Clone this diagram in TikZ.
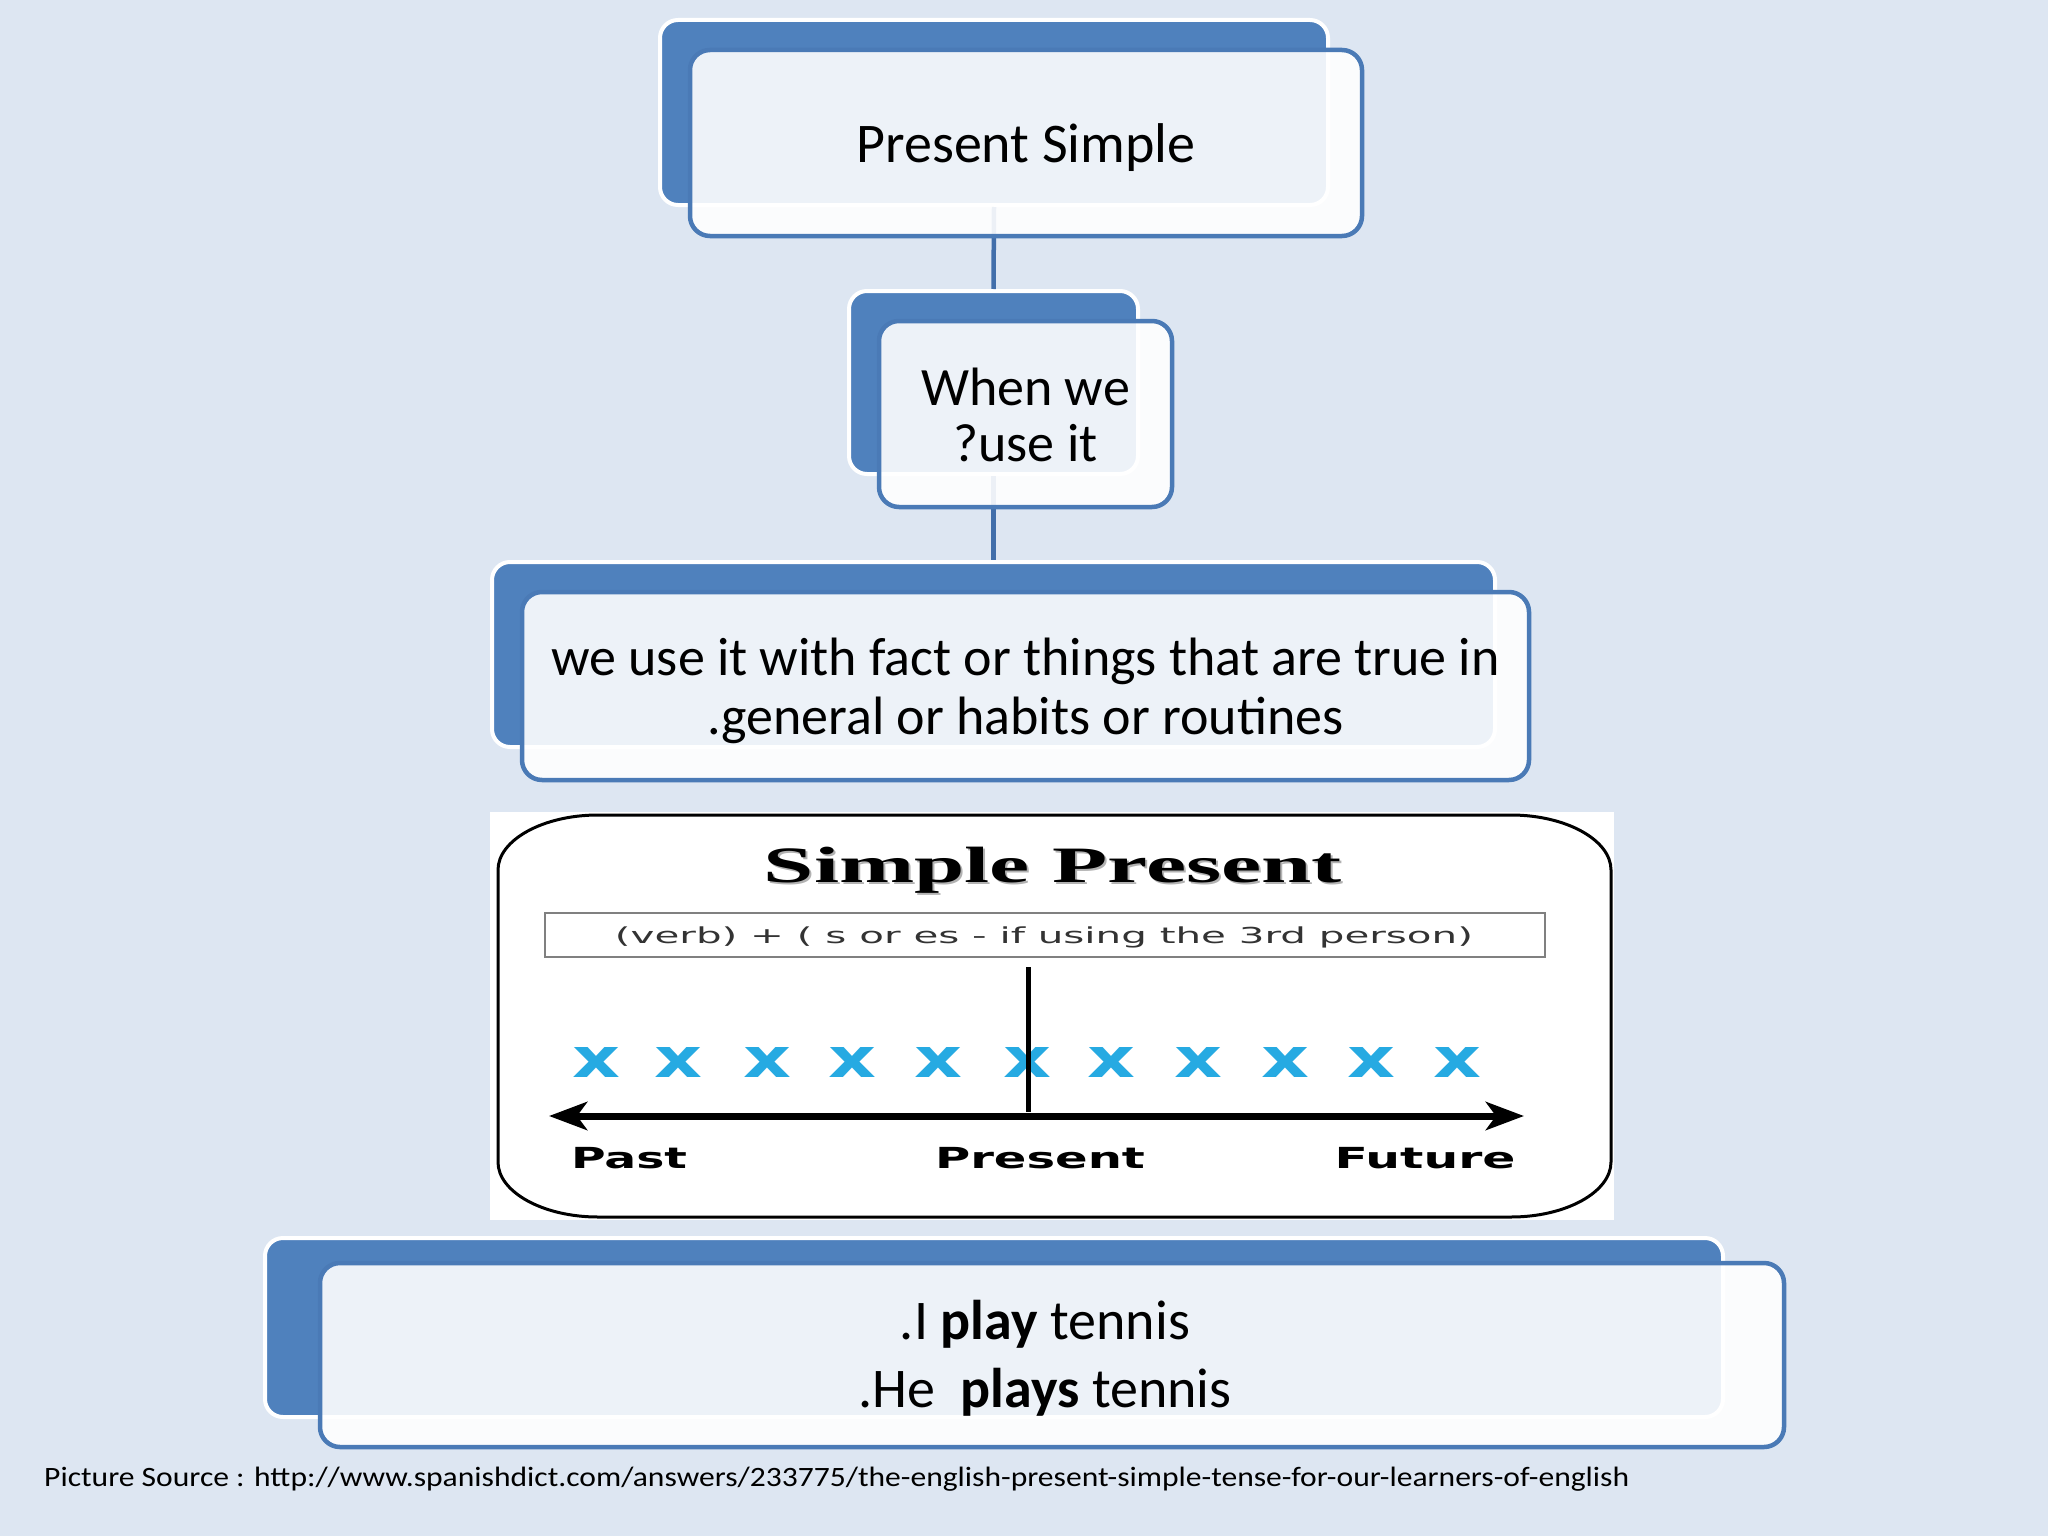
\documentclass[tikz,border=0pt]{standalone}
\usepackage{fontspec}
\usepackage{graphicx}
\setmainfont{Carlito}
\newfontfamily\timesf{Liberation Serif}
\newfontfamily\dejaf{DejaVu Sans}
\usetikzlibrary{arrows.meta}
\definecolor{bgc}{RGB}{221,230,242}
\definecolor{boxblue}{RGB}{79,129,189}
\definecolor{edgeblue}{RGB}{74,122,182}
\definecolor{connc}{RGB}{65,110,170}
\definecolor{xcyan}{RGB}{38,170,226}
\begin{document}
\begin{tikzpicture}[x=1pt,y=-1pt,
 backbox/.style={draw=white, line width=4pt, fill=boxblue, rounded corners=18pt, inner sep=0pt},
 frontbox/.style={draw=edgeblue, line width=4.5pt, fill=white, fill opacity=0.9, rounded corners=20pt, inner sep=0pt},
 boxtext/.style={inner sep=0pt, align=center, text=black},
 conn/.style={draw=connc, line width=4.5pt},
 xmark/.style={text=xcyan, anchor=base, inner sep=0pt, font=\dejaf\bfseries\fontsize{40}{40}\selectfont},
 tlabel/.style={anchor=base, inner sep=0pt, font=\dejaf\bfseries\fontsize{29}{29}\selectfont}]
\fill[bgc] (0,0) rectangle (2048,1536);
\useasboundingbox (0,0) rectangle (2048,1536);

% back boxes
\node[backbox, minimum width=668pt, minimum height=185pt] (b1) at (994,112.5) {};
\node[backbox, minimum width=289pt, minimum height=183pt] (b2) at (993.5,382.5) {};
\node[backbox, minimum width=1003pt, minimum height=185pt] (b3) at (993.5,654.5) {};
\node[backbox, minimum width=1458pt, minimum height=179pt] (b4) at (994,1327.5) {};

% connectors
\draw[conn] (b1.south) -- (b2.north);
\draw[conn] (b2.south) -- (b3.north);

% front boxes
\node[frontbox, minimum width=672pt, minimum height=186pt] (f1) at (1026,143) {};
\node[frontbox, minimum width=293pt, minimum height=186pt] (f2) at (1025.5,414) {};
\node[frontbox, minimum width=1007pt, minimum height=188pt] (f3) at (1025.5,686) {};
\node[frontbox, minimum width=1464pt, minimum height=184pt] (f4) at (1052,1355) {};

% box texts
\node[boxtext, font=\fontsize{56}{60}\selectfont] (t1) at ([shift={(0,5)}]f1.center) {Present Simple};
\node[boxtext, font=\fontsize{54}{56}\selectfont] (t2) at ([shift={(0,1)}]f2.center) {When we\\?use it};
\node[boxtext, font=\fontsize{54}{59}\selectfont] (t3) at ([shift={(0,5)}]f3.center) {we use it with fact or things that are true in\\.general or habits or routines};
\node[boxtext, font=\fontsize{56}{68}\selectfont] (t4) at ([shift={(-7,3)}]f4.center) {.I \textbf{play} tennis\\.He\ \ \textbf{plays} tennis};

% embedded picture
\fill[white] (490,812) rectangle (1614,1220);
\draw[line width=3pt, black] (598,815) -- (1511,815)
  .. controls (1566,815) and (1611,840) .. (1611,870) -- (1611,1162)
  .. controls (1611,1192) and (1566,1217) .. (1511,1217) -- (598,1217)
  .. controls (543,1217) and (498,1192) .. (498,1162) -- (498,870)
  .. controls (498,840) and (543,815) .. (598,815) -- cycle;
\node[anchor=base, inner sep=0pt, text=black!30, font=\timesf\bfseries\fontsize{51}{51}\selectfont] (titleshadow) at (1055,884) {\resizebox{578pt}{\height}{Simple Present}};
\node[anchor=base, inner sep=0pt, font=\timesf\bfseries\fontsize{51}{51}\selectfont] (title) at (1053,882) {\resizebox{578pt}{\height}{Simple Present}};
\node[draw=black!50, line width=2pt, minimum width=1000pt, minimum height=44pt, inner sep=0pt] (formbox) at (1045,935) {};
\node[anchor=base, inner sep=0pt, text=black!80, font=\dejaf\fontsize{22}{22}\selectfont] (formula) at (1044,943) {\resizebox{858pt}{\height}{(verb) + ( s or es - if using the 3rd person)}};
\coordinate (nowtop) at (1028,967);
\coordinate (nowbot) at (1028,1112);
\coordinate (pastend) at (549,1116);
\coordinate (futend) at (1524,1116);
\foreach \xx [count=\i] in {596,678,767,852,938,1027,1111,1198,1285,1371,1457}
  \node[xmark] (x\i) at (\xx,1077) {\resizebox{48pt}{30pt}{x}};
\draw[line width=5pt] (nowtop) -- (nowbot);
\draw[line width=7pt, {Stealth[length=38pt,width=28pt,inset=10pt]}-{Stealth[length=38pt,width=28pt,inset=10pt]}] (pastend) -- (futend);
\node[tlabel] (past) at (629,1168) {\resizebox{116pt}{\height}{Past}};
\node[tlabel] (present) at (1040,1168) {\resizebox{210pt}{\height}{Present}};
\node[tlabel] (future) at (1425,1168) {\resizebox{181pt}{\height}{Future}};

% footer
\node[anchor=base west, inner sep=0pt, font=\fontsize{28}{28}\selectfont] (source) at (44,1486) {\resizebox{1585pt}{\height}{Picture Source : http://www.spanishdict.com/answers/233775/the-english-present-simple-tense-for-our-learners-of-english}};
\end{tikzpicture}
\end{document}
